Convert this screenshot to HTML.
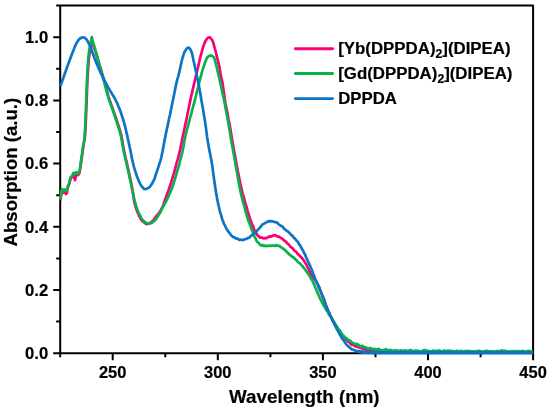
<!DOCTYPE html>
<html><head><meta charset="utf-8"><title>Absorption spectra</title>
<style>html,body{margin:0;padding:0;background:#fff;}body{width:550px;height:411px;overflow:hidden;position:relative;}</style>
</head><body>
<svg width="550" height="411" viewBox="0 0 550 411" style="display:block;position:absolute;left:0;top:0">
<rect width="550" height="411" fill="#fff"/>
<g stroke="#000" stroke-width="2" fill="none">
<path stroke-linejoin="round" d="M56.2,5.6 H533.1 V360.2 M59.2,353.2 H534.1 M60.2,4.6 V357.2"/>
<path d="M112.7,353.2 v7 M217.8,353.2 v7 M322.9,353.2 v7 M428.0,353.2 v7 M165.3,353.2 v4 M270.4,353.2 v4 M375.5,353.2 v4 M480.6,353.2 v4 M60.2,353.2 h-7 M60.2,290.0 h-7 M60.2,226.8 h-7 M60.2,163.6 h-7 M60.2,100.4 h-7 M60.2,37.2 h-7 M60.2,321.6 h-4 M60.2,258.4 h-4 M60.2,195.2 h-4 M60.2,132.0 h-4 M60.2,68.8 h-4"/>
</g>
<g fill="none" stroke-width="2.7" stroke-linejoin="round" stroke-linecap="butt">
<path d="M60.5,200.50 L61.0,195.86 L61.5,192.29 L62.0,190.25 L62.5,191.50 L63.0,192.92 L63.5,192.29 L64.0,191.43 L64.5,191.00 L65.0,192.12 L65.5,193.14 L66.0,194.00 L66.5,193.62 L67.0,192.44 L67.5,188.50 L68.0,185.62 L68.5,185.00 L69.0,184.38 L69.5,183.14 L70.0,181.00 L70.5,179.21 L71.0,178.20 L71.5,177.70 L72.0,177.11 L72.5,176.50 L73.0,175.29 L73.5,174.40 L74.0,175.40 L74.5,178.53 L75.0,180.17 L75.5,178.00 L76.0,175.50 L76.5,173.92 L77.0,173.33 L77.5,174.10 L78.0,175.08 L78.5,174.71 L79.0,173.50 L79.5,172.75 L80.0,170.07 L80.5,166.65 L81.0,163.07 L81.5,159.57 L82.0,155.99 L82.5,152.45 L83.0,148.83 L83.5,145.39 L84.0,142.62 L84.5,139.98 L85.0,136.42 L85.5,128.57 L86.0,116.68 L86.3,109.40 L86.5,104.42 L87.0,90.45 L87.4,81.00 L87.5,79.13 L88.0,70.66 L88.5,63.45 L89.0,57.69 L89.3,55.07 L89.5,53.52 L90.0,50.00 L90.5,47.15 L90.6,46.53 L91.0,44.21 L91.5,41.86 L91.8,41.43 L92.0,41.89 L92.5,43.65 L92.8,44.54 L93.0,45.06 L93.5,46.39 L94.0,47.67 L94.5,48.89 L94.9,49.92 L95.0,50.19 L95.5,51.53 L96.0,53.02 L96.5,54.66 L97.0,56.25 L97.5,57.95 L98.0,59.68 L98.5,61.29 L99.0,63.03 L99.5,64.79 L100.0,66.38 L100.5,67.86 L101.0,69.43 L101.5,71.25 L102.0,73.07 L102.5,74.73 L103.0,76.39 L103.5,78.09 L104.0,79.77 L104.5,81.55 L105.0,83.41 L105.5,85.21 L106.0,87.24 L106.5,89.37 L107.0,91.19 L107.5,92.86 L108.0,94.73 L108.5,96.62 L109.0,98.29 L109.5,99.74 L110.0,101.10 L110.5,102.56 L111.0,104.07 L111.5,105.44 L112.0,106.73 L112.5,108.08 L113.0,109.52 L113.5,110.96 L114.0,112.38 L114.5,113.91 L115.0,115.44 L115.5,116.82 L116.0,118.25 L116.5,119.79 L117.0,121.26 L117.5,122.74 L118.0,124.21 L118.5,125.75 L119.0,127.47 L119.5,129.13 L120.0,130.75 L120.5,132.45 L121.0,134.27 L121.5,136.33 L122.0,139.01 L122.5,142.08 L123.0,145.05 L123.5,147.87 L124.0,150.51 L124.5,152.89 L125.0,155.22 L125.5,157.52 L126.0,159.58 L126.5,161.61 L127.0,163.84 L127.5,166.17 L128.0,168.53 L128.5,170.78 L129.0,172.92 L129.5,175.14 L130.0,177.38 L130.5,179.64 L131.0,182.05 L131.5,184.49 L132.0,187.10 L132.5,190.22 L133.0,193.54 L133.5,196.93 L134.0,200.12 L134.5,202.68 L135.0,204.62 L135.5,206.43 L136.0,208.15 L136.5,209.66 L137.0,210.95 L137.5,212.19 L138.0,213.32 L138.5,214.52 L139.0,215.81 L139.5,216.72 L140.0,217.58 L140.5,218.59 L141.0,219.38 L141.5,220.14 L142.0,220.77 L142.5,221.14 L143.0,221.54 L143.5,222.01 L144.0,222.39 L144.5,222.67 L145.0,223.02 L145.5,223.48 L146.0,223.84 L146.5,224.05 L147.0,224.13 L147.5,223.99 L148.0,223.75 L148.5,223.49 L149.0,223.19 L149.5,222.98 L150.0,222.83 L150.5,222.70 L151.0,222.46 L151.5,222.06 L152.0,221.56 L152.5,221.06 L153.0,220.62 L153.5,220.12 L154.0,219.45 L154.5,218.80 L155.0,218.27 L155.5,217.58 L156.0,216.72 L156.5,215.97 L157.0,215.36 L157.5,214.78 L158.0,214.17 L158.5,213.59 L159.0,213.00 L159.5,212.37 L160.0,211.60 L160.5,210.72 L161.0,209.85 L161.5,208.91 L162.0,208.02 L162.5,207.02 L163.0,205.77 L163.5,204.41 L164.0,202.90 L164.5,201.42 L165.0,200.01 L165.5,198.55 L166.0,197.14 L166.5,195.73 L167.0,194.34 L167.5,192.97 L168.0,191.67 L168.5,190.39 L169.0,189.00 L169.5,187.42 L170.0,185.72 L170.5,184.26 L171.0,182.82 L171.5,181.22 L172.0,179.65 L172.5,177.96 L173.0,176.19 L173.5,174.62 L174.0,173.02 L174.5,171.11 L175.0,169.15 L175.5,167.28 L176.0,165.38 L176.5,163.45 L177.0,161.74 L177.5,160.10 L178.0,158.21 L178.5,156.23 L179.0,154.35 L179.5,152.37 L180.0,150.25 L180.5,148.01 L181.0,145.53 L181.5,142.98 L182.0,140.40 L182.5,137.75 L183.0,135.42 L183.5,133.20 L184.0,130.84 L184.5,128.50 L185.0,126.12 L185.5,123.85 L186.0,121.64 L186.5,119.11 L187.0,116.54 L187.5,114.09 L188.0,111.59 L188.5,109.15 L189.0,106.79 L189.5,104.35 L190.0,101.88 L190.5,99.61 L191.0,97.31 L191.5,95.00 L192.0,92.83 L192.5,90.65 L193.0,88.55 L193.5,86.40 L194.0,84.17 L194.5,82.01 L195.0,79.81 L195.5,77.61 L196.0,75.58 L196.5,73.60 L197.0,71.56 L197.5,69.47 L198.0,67.22 L198.5,64.95 L199.0,62.86 L199.5,60.69 L200.0,58.37 L200.5,56.34 L201.0,54.56 L201.5,52.89 L202.0,51.11 L202.5,49.21 L203.0,47.52 L203.5,46.04 L204.0,44.62 L204.5,43.30 L205.0,42.08 L205.5,40.96 L206.0,40.13 L206.5,39.41 L207.0,38.68 L207.5,38.14 L208.0,37.87 L208.5,37.67 L209.0,37.34 L209.5,37.23 L210.0,37.55 L210.5,37.99 L211.0,38.54 L211.5,39.28 L212.0,39.97 L212.5,40.67 L213.0,41.84 L213.5,43.52 L214.0,45.36 L214.5,47.28 L215.0,49.27 L215.5,50.95 L216.0,52.76 L216.5,54.81 L217.0,57.03 L217.5,59.05 L218.0,61.07 L218.5,63.12 L219.0,65.10 L219.5,67.60 L220.0,70.74 L220.5,73.73 L221.0,76.17 L221.5,78.42 L222.0,80.57 L222.5,82.98 L223.0,86.44 L223.5,90.23 L224.0,93.54 L224.5,96.88 L225.0,100.42 L225.5,103.57 L226.0,106.30 L226.5,108.79 L227.0,111.11 L227.5,113.49 L228.0,116.34 L228.5,119.23 L229.0,121.68 L229.5,124.13 L230.0,126.81 L230.5,129.62 L231.0,132.81 L231.5,135.85 L232.0,138.65 L232.5,141.67 L233.0,144.72 L233.5,147.66 L234.0,150.48 L234.5,153.10 L235.0,155.63 L235.5,158.41 L236.0,161.39 L236.5,164.21 L237.0,166.97 L237.5,169.60 L238.0,171.96 L238.5,174.47 L239.0,177.08 L239.5,179.57 L240.0,181.97 L240.5,184.36 L241.0,186.73 L241.5,188.90 L242.0,190.98 L242.5,193.02 L243.0,194.83 L243.5,196.46 L244.0,198.24 L244.5,200.05 L245.0,201.90 L245.5,203.67 L246.0,205.10 L246.5,206.70 L247.0,208.66 L247.5,210.52 L248.0,212.20 L248.5,213.95 L249.0,215.54 L249.5,217.06 L250.0,218.73 L250.5,220.23 L251.0,221.48 L251.5,222.75 L252.0,224.07 L252.5,225.06 L253.0,225.99 L253.5,227.36 L254.0,228.90 L254.5,230.38 L255.0,231.66 L255.5,232.53 L256.0,233.18 L256.5,233.84 L257.0,234.61 L257.5,235.39 L258.0,235.85 L258.5,236.08 L259.0,236.57 L259.5,237.23 L260.0,237.63 L260.5,237.62 L261.0,237.50 L261.5,237.54 L262.0,237.63 L262.5,237.80 L263.0,238.12 L263.5,238.31 L264.0,238.35 L264.5,238.29 L265.0,238.15 L265.5,238.09 L266.0,238.06 L266.5,238.08 L267.0,238.07 L267.5,237.61 L268.0,237.10 L268.5,236.96 L269.0,236.73 L269.5,236.41 L270.0,236.45 L270.5,236.70 L271.0,236.60 L271.5,236.22 L272.0,236.12 L272.5,235.90 L273.0,235.45 L273.5,235.31 L274.0,235.34 L274.5,235.19 L275.0,235.03 L275.5,235.27 L276.0,235.75 L276.5,236.11 L277.0,236.21 L277.5,236.29 L278.0,236.61 L278.5,236.66 L279.0,236.65 L279.5,237.01 L280.0,237.34 L280.5,237.60 L281.0,237.97 L281.5,238.39 L282.0,238.65 L282.5,238.96 L283.0,239.48 L283.5,239.84 L284.0,240.25 L284.5,240.79 L285.0,241.09 L285.5,241.38 L286.0,241.75 L286.5,242.13 L287.0,242.89 L287.5,243.63 L288.0,243.94 L288.5,244.28 L289.0,244.73 L289.5,245.43 L290.0,246.31 L290.5,246.78 L291.0,247.05 L291.5,247.47 L292.0,247.89 L292.5,248.31 L293.0,248.79 L293.5,249.37 L294.0,250.09 L294.5,250.72 L295.0,251.15 L295.5,251.41 L296.0,251.74 L296.5,252.28 L297.0,252.89 L297.5,253.61 L298.0,254.24 L298.5,254.66 L299.0,254.86 L299.5,255.25 L300.0,256.13 L300.5,256.68 L301.0,256.90 L301.5,257.57 L302.0,258.26 L302.5,258.79 L303.0,259.52 L303.5,260.00 L304.0,260.62 L304.5,261.67 L305.0,262.46 L305.5,263.22 L306.0,264.08 L306.5,265.00 L307.0,266.15 L307.5,267.10 L308.0,267.98 L308.5,268.99 L309.0,270.11 L309.5,271.17 L310.0,272.14 L310.5,273.26 L311.0,274.22 L311.5,275.08 L312.0,275.95 L312.5,276.65 L313.0,277.46 L313.5,278.32 L314.0,278.98 L314.5,279.63 L315.0,280.09 L315.5,280.33 L316.0,280.85 L316.5,281.84 L317.0,282.96 L317.5,283.87 L318.0,284.89 L318.5,285.98 L319.0,286.84 L319.5,287.99 L320.0,289.66 L320.5,291.22 L321.0,292.22 L321.5,293.22 L322.0,294.63 L322.5,296.05 L323.0,297.28 L323.5,298.38 L324.0,299.65 L324.5,301.20 L325.0,302.84 L325.5,304.51 L326.0,305.83 L326.5,306.74 L327.0,307.86 L327.5,309.16 L328.0,310.41 L328.5,311.68 L329.0,312.85 L329.5,314.02 L330.0,315.14 L330.5,315.96 L331.0,316.67 L331.5,317.58 L332.0,318.62 L332.5,319.57 L333.0,320.61 L333.5,321.89 L334.0,322.92 L334.5,323.67 L335.0,324.39 L335.5,325.18 L336.0,326.35 L336.5,327.39 L337.0,327.96 L337.5,328.88 L338.0,329.91 L338.5,330.56 L339.0,331.25 L339.5,331.94 L340.0,332.55 L340.5,333.42 L341.0,334.16 L341.5,334.47 L342.0,335.01 L342.5,335.88 L343.0,336.73 L343.5,337.38 L344.0,337.73 L344.5,337.93 L345.0,338.37 L345.5,339.08 L346.0,339.58 L346.5,339.91 L347.0,340.48 L347.5,341.14 L348.0,341.55 L348.5,341.81 L349.0,342.16 L349.5,342.44 L350.0,342.82 L350.5,343.42 L351.0,344.20 L351.5,344.69 L352.0,344.63 L352.5,344.73 L353.0,344.91 L353.5,344.98 L354.0,345.22 L354.5,345.54 L355.0,346.08 L355.5,346.30 L356.0,346.31 L356.5,346.45 L357.0,346.79 L357.5,346.95 L358.0,347.07 L358.5,347.17 L359.0,347.23 L359.5,347.56 L360.0,347.88 L360.5,347.99 L361.0,348.02 L361.5,348.12 L362.0,348.37 L362.5,348.54 L363.0,348.59 L363.5,348.72 L364.0,349.01 L364.5,349.22 L365.0,349.29 L365.5,349.44 L366.0,349.65 L366.5,349.73 L367.0,349.66 L367.5,349.61 L368.0,349.67 L368.5,349.83 L369.0,350.02 L369.5,350.10 L370.0,350.07 L370.5,350.06 L371.0,350.17 L371.5,350.35 L372.0,350.41 L372.5,350.40 L373.0,350.41 L373.5,350.44 L374.0,350.63 L374.5,350.88 L375.0,350.89 L375.5,350.75 L376.0,350.70 L376.5,350.82 L377.0,351.10 L377.5,351.16 L378.0,350.93 L378.5,350.89 L379.0,351.02 L379.5,350.98 L380.0,350.96 L380.5,351.18 L381.0,351.25 L381.5,351.15 L382.0,351.30 L382.5,351.53 L383.0,351.52 L383.5,351.54 L384.0,351.70 L384.5,351.60 L385.0,351.46 L385.5,351.49 L386.0,351.49 L386.5,351.50 L387.0,351.51 L387.5,351.57 L388.0,351.65 L388.5,351.77 L389.0,351.83 L389.5,351.77 L390.0,351.79 L390.5,351.73 L391.0,351.60 L391.5,351.71 L392.0,351.87 L392.5,351.91 L393.0,352.14 L393.5,352.30 L394.0,352.10 L394.5,351.94 L395.0,352.00 L395.5,351.93 L396.0,351.81 L396.5,351.91 L397.0,351.76 L397.5,351.50 L398.0,351.61 L398.5,351.82 L399.0,351.91 L399.5,351.95 L400.0,351.99 L400.5,351.94 L401.0,351.76 L401.5,351.67 L402.0,351.89 L402.5,352.03 L403.0,351.80 L403.5,351.58 L404.0,351.73 L404.5,351.99 L405.0,351.90 L405.5,351.74 L406.0,351.81 L406.5,351.91 L407.0,351.83 L407.5,351.68 L408.0,351.68 L408.5,351.87 L409.0,352.02 L409.5,352.01 L410.0,352.03 L410.5,352.00 L411.0,351.96 L411.5,351.95 L412.0,352.00 L412.5,352.08 L413.0,352.01 L413.5,351.89 L414.0,351.90 L414.5,351.95 L415.0,351.99 L415.5,352.00 L416.0,351.90 L416.5,351.80 L417.0,351.97 L417.5,352.03 L418.0,351.94 L418.5,352.06 L419.0,352.05 L419.5,351.82 L420.0,351.77 L420.5,351.90 L421.0,351.85 L421.5,351.85 L422.0,351.91 L422.5,351.79 L423.0,351.69 L423.5,351.73 L424.0,351.89 L424.5,352.03 L425.0,352.05 L425.5,351.99 L426.0,351.93 L426.5,351.90 L427.0,351.99 L427.5,352.15 L428.0,351.97 L428.5,351.66 L429.0,351.80 L429.5,351.99 L430.0,351.85 L430.5,351.84 L431.0,351.91 L431.5,351.91 L432.0,352.11 L432.5,352.17 L433.0,352.02 L433.5,351.98 L434.0,351.85 L434.5,351.79 L435.0,351.94 L435.5,351.96 L436.0,351.95 L436.5,351.93 L437.0,351.78 L437.5,351.70 L438.0,351.82 L438.5,352.03 L439.0,352.14 L439.5,352.01 L440.0,351.85 L440.5,351.93 L441.0,351.93 L441.5,351.75 L442.0,351.80 L442.5,352.03 L443.0,352.10 L443.5,352.07 L444.0,352.06 L444.5,352.04 L445.0,352.00 L445.5,351.91 L446.0,351.84 L446.5,351.86 L447.0,352.04 L447.5,352.24 L448.0,352.14 L448.5,351.97 L449.0,351.93 L449.5,351.92 L450.0,351.96 L450.5,352.02 L451.0,352.05 L451.5,352.02 L452.0,351.96 L452.5,352.02 L453.0,352.03 L453.5,351.90 L454.0,351.94 L454.5,351.99 L455.0,351.92 L455.5,351.78 L456.0,351.79 L456.5,351.95 L457.0,351.86 L457.5,351.81 L458.0,351.87 L458.5,351.85 L459.0,352.01 L459.5,352.12 L460.0,352.07 L460.5,351.92 L461.0,351.71 L461.5,351.77 L462.0,352.01 L462.5,351.98 L463.0,351.98 L463.5,352.10 L464.0,351.99 L464.5,351.90 L465.0,351.93 L465.5,351.89 L466.0,351.82 L466.5,351.93 L467.0,352.15 L467.5,351.97 L468.0,351.55 L468.5,351.59 L469.0,351.90 L469.5,351.97 L470.0,352.00 L470.5,351.98 L471.0,351.91 L471.5,352.03 L472.0,352.11 L472.5,352.07 L473.0,352.10 L473.5,352.09 L474.0,351.97 L474.5,351.95 L475.0,352.06 L475.5,351.98 L476.0,351.93 L476.5,352.15 L477.0,352.30 L477.5,352.24 L478.0,352.11 L478.5,352.01 L479.0,351.91 L479.5,351.85 L480.0,351.95 L480.5,351.98 L481.0,352.03 L481.5,352.07 L482.0,351.86 L482.5,351.76 L483.0,351.94 L483.5,352.09 L484.0,352.02 L484.5,351.88 L485.0,351.82 L485.5,351.77 L486.0,351.85 L486.5,352.07 L487.0,352.19 L487.5,352.11 L488.0,352.12 L488.5,352.20 L489.0,351.90 L489.5,351.67 L490.0,351.84 L490.5,352.04 L491.0,352.03 L491.5,351.95 L492.0,352.11 L492.5,352.18 L493.0,351.95 L493.5,351.75 L494.0,351.76 L494.5,351.97 L495.0,352.16 L495.5,352.19 L496.0,352.23 L496.5,352.22 L497.0,352.15 L497.5,352.06 L498.0,351.89 L498.5,351.86 L499.0,351.93 L499.5,351.95 L500.0,352.10 L500.5,352.22 L501.0,352.08 L501.5,351.89 L502.0,351.94 L502.5,352.07 L503.0,351.99 L503.5,351.94 L504.0,351.97 L504.5,352.05 L505.0,352.10 L505.5,351.91 L506.0,351.88 L506.5,352.10 L507.0,352.16 L507.5,352.10 L508.0,352.09 L508.5,352.17 L509.0,352.28 L509.5,352.22 L510.0,352.03 L510.5,351.96 L511.0,352.04 L511.5,352.08 L512.0,352.04 L512.5,351.81 L513.0,351.70 L513.5,351.96 L514.0,352.16 L514.5,352.22 L515.0,352.29 L515.5,352.18 L516.0,352.06 L516.5,352.09 L517.0,352.12 L517.5,352.16 L518.0,352.13 L518.5,352.08 L519.0,352.06 L519.5,351.93 L520.0,351.83 L520.5,351.78 L521.0,351.76 L521.5,351.98 L522.0,352.27 L522.5,352.33 L523.0,352.12 L523.5,351.84 L524.0,351.88 L524.5,352.05 L525.0,352.00 L525.5,351.88 L526.0,351.77 L526.5,351.90 L527.0,352.10 L527.5,352.08 L528.0,351.96 L528.5,351.84 L529.0,351.90 L529.5,352.09 L530.0,352.10 L530.5,352.02 L531.0,351.96 L531.5,351.96 L532.0,352.14 L532.5,352.17 L533.0,351.98" stroke="#fa0078"/>
<path d="M60.5,199.50 L61.0,194.08 L61.5,190.20 L62.0,189.14 L62.5,189.92 L63.0,191.50 L63.5,190.43 L64.0,189.70 L64.5,189.43 L65.0,190.08 L65.5,190.64 L66.0,190.84 L66.5,190.71 L67.0,189.29 L67.5,188.33 L68.0,187.36 L68.5,186.07 L69.0,183.93 L69.5,181.50 L70.0,179.13 L70.5,177.34 L71.0,177.04 L71.5,176.66 L72.0,175.96 L72.5,175.10 L73.0,173.60 L73.5,172.89 L74.0,173.20 L74.5,174.04 L75.0,174.26 L75.5,173.33 L76.0,172.37 L76.5,172.09 L77.0,173.03 L77.5,173.59 L78.0,173.90 L78.5,172.83 L79.0,172.14 L79.5,171.25 L80.0,168.50 L80.5,164.00 L81.0,160.40 L81.5,157.41 L82.0,154.24 L82.5,150.55 L83.0,146.83 L83.5,143.77 L84.0,141.21 L84.5,137.58 L85.0,130.58 L85.5,119.21 L85.9,109.13 L86.0,106.49 L86.5,91.39 L86.9,80.99 L87.0,79.10 L87.5,69.98 L88.0,62.22 L88.5,56.17 L88.7,54.26 L89.0,51.95 L89.5,49.04 L90.0,46.41 L90.2,45.22 L90.5,43.50 L91.0,40.73 L91.2,39.78 L91.5,38.05 L91.8,37.12 L92.0,37.59 L92.3,39.07 L92.5,39.99 L93.0,42.01 L93.4,43.51 L93.5,43.72 L94.0,45.21 L94.5,46.91 L95.0,48.69 L95.3,49.90 L95.5,50.40 L96.0,52.17 L96.5,54.06 L97.0,56.07 L97.5,58.07 L98.0,60.02 L98.5,61.87 L98.8,62.96 L99.0,63.74 L99.5,65.61 L100.0,67.46 L100.5,69.21 L101.0,70.82 L101.5,72.44 L102.0,74.18 L102.5,75.98 L103.0,77.70 L103.5,79.40 L104.0,81.19 L104.5,83.08 L105.0,85.06 L105.5,87.06 L106.0,89.11 L106.5,91.08 L107.0,92.90 L107.5,94.67 L108.0,96.50 L108.5,98.18 L109.0,99.64 L109.5,101.13 L110.0,102.57 L110.5,103.93 L111.0,105.43 L111.5,106.84 L112.0,108.13 L112.5,109.46 L113.0,110.83 L113.5,112.25 L114.0,113.75 L114.5,115.36 L115.0,116.86 L115.5,118.22 L116.0,119.72 L116.5,121.42 L117.0,122.93 L117.5,124.32 L118.0,126.05 L118.5,127.75 L119.0,129.15 L119.5,130.67 L120.0,132.48 L120.5,134.34 L121.0,136.32 L121.5,138.87 L122.0,141.93 L122.5,145.02 L123.0,147.89 L123.5,150.45 L124.0,152.79 L124.5,155.08 L125.0,157.21 L125.5,159.22 L126.0,161.29 L126.5,163.43 L127.0,165.54 L127.5,167.65 L128.0,169.84 L128.5,172.14 L129.0,174.50 L129.5,176.86 L130.0,179.20 L130.5,181.39 L131.0,183.65 L131.5,186.26 L132.0,188.74 L132.5,190.94 L133.0,193.18 L133.5,195.53 L134.0,197.84 L134.5,199.97 L135.0,201.89 L135.5,203.63 L136.0,205.31 L136.5,206.94 L137.0,208.45 L137.5,209.85 L138.0,211.17 L138.5,212.40 L139.0,213.57 L139.5,214.57 L140.0,215.35 L140.5,216.33 L141.0,217.55 L141.5,218.52 L142.0,219.13 L142.5,219.71 L143.0,220.36 L143.5,220.89 L144.0,221.28 L144.5,221.66 L145.0,221.96 L145.5,222.27 L146.0,222.72 L146.5,223.15 L147.0,223.40 L147.5,223.47 L148.0,223.52 L148.5,223.64 L149.0,223.63 L149.5,223.52 L150.0,223.42 L150.5,223.31 L151.0,223.17 L151.5,223.01 L152.0,222.74 L152.5,222.30 L153.0,221.89 L153.5,221.65 L154.0,221.35 L154.5,220.92 L155.0,220.36 L155.5,219.71 L156.0,219.07 L156.5,218.46 L157.0,217.79 L157.5,216.88 L158.0,215.99 L158.5,215.26 L159.0,214.50 L159.5,213.76 L160.0,212.97 L160.5,211.86 L161.0,210.74 L161.5,209.82 L162.0,208.71 L162.5,207.66 L163.0,206.84 L163.5,205.93 L164.0,204.99 L164.5,204.15 L165.0,203.29 L165.5,202.41 L166.0,201.51 L166.5,200.55 L167.0,199.44 L167.5,198.42 L168.0,197.53 L168.5,196.38 L169.0,195.17 L169.5,194.06 L170.0,192.97 L170.5,191.87 L171.0,190.71 L171.5,189.56 L172.0,188.31 L172.5,186.79 L173.0,185.18 L173.5,183.65 L174.0,182.06 L174.5,180.45 L175.0,178.88 L175.5,177.17 L176.0,175.43 L176.5,173.70 L177.0,171.90 L177.5,170.23 L178.0,168.66 L178.5,166.91 L179.0,165.11 L179.5,163.29 L180.0,161.27 L180.5,159.33 L181.0,157.37 L181.5,155.40 L182.0,153.62 L182.5,151.46 L183.0,149.03 L183.5,146.44 L184.0,143.49 L184.5,140.49 L185.0,137.90 L185.5,135.58 L186.0,133.44 L186.5,131.50 L187.0,129.57 L187.5,127.71 L188.0,125.92 L188.5,124.02 L189.0,122.10 L189.5,120.14 L190.0,118.22 L190.5,116.49 L191.0,114.75 L191.5,112.88 L192.0,110.93 L192.5,108.94 L193.0,106.98 L193.5,105.20 L194.0,103.47 L194.5,101.62 L195.0,99.64 L195.5,97.54 L196.0,95.49 L196.5,93.57 L197.0,91.60 L197.5,89.53 L198.0,87.47 L198.5,85.46 L199.0,83.42 L199.5,81.41 L200.0,79.50 L200.5,77.60 L201.0,75.73 L201.5,73.91 L202.0,72.12 L202.5,70.38 L203.0,68.72 L203.5,67.14 L204.0,65.55 L204.5,64.01 L205.0,62.80 L205.5,61.62 L206.0,60.15 L206.5,58.85 L207.0,57.85 L207.5,57.14 L208.0,56.71 L208.5,56.30 L209.0,55.94 L209.5,55.74 L210.0,55.58 L210.5,55.54 L211.0,55.55 L211.5,55.58 L212.0,55.80 L212.5,56.24 L213.0,56.58 L213.5,56.89 L214.0,57.39 L214.5,58.66 L215.0,60.54 L215.5,62.47 L216.0,64.35 L216.5,66.32 L217.0,68.35 L217.5,70.59 L218.0,72.68 L218.5,74.66 L219.0,76.82 L219.5,79.00 L220.0,81.27 L220.5,83.60 L221.0,85.80 L221.5,87.96 L222.0,90.49 L222.5,93.11 L223.0,95.25 L223.5,97.33 L224.0,99.67 L224.5,102.11 L225.0,104.77 L225.5,107.73 L226.0,110.53 L226.5,112.98 L227.0,115.52 L227.5,118.18 L228.0,120.88 L228.5,123.73 L229.0,126.77 L229.5,129.80 L230.0,132.83 L230.5,136.07 L231.0,139.06 L231.5,141.83 L232.0,144.64 L232.5,147.32 L233.0,150.10 L233.5,153.02 L234.0,155.79 L234.5,158.49 L235.0,161.22 L235.5,164.13 L236.0,166.96 L236.5,169.64 L237.0,172.62 L237.5,175.68 L238.0,178.63 L238.5,181.19 L239.0,183.62 L239.5,186.53 L240.0,189.25 L240.5,191.49 L241.0,193.70 L241.5,195.86 L242.0,197.94 L242.5,200.03 L243.0,202.03 L243.5,203.82 L244.0,205.26 L244.5,206.96 L245.0,209.23 L245.5,211.28 L246.0,212.86 L246.5,214.39 L247.0,216.25 L247.5,218.07 L248.0,219.55 L248.5,220.96 L249.0,222.30 L249.5,223.57 L250.0,224.83 L250.5,226.30 L251.0,227.88 L251.5,229.15 L252.0,230.27 L252.5,231.52 L253.0,232.71 L253.5,233.85 L254.0,235.18 L254.5,236.53 L255.0,237.58 L255.5,238.34 L256.0,239.34 L256.5,240.55 L257.0,241.44 L257.5,242.00 L258.0,242.33 L258.5,242.63 L259.0,243.26 L259.5,244.09 L260.0,244.58 L260.5,244.93 L261.0,245.45 L261.5,245.65 L262.0,245.30 L262.5,244.96 L263.0,245.11 L263.5,245.62 L264.0,246.03 L264.5,245.87 L265.0,245.54 L265.5,245.80 L266.0,246.10 L266.5,245.86 L267.0,245.84 L267.5,246.10 L268.0,245.92 L268.5,245.70 L269.0,245.75 L269.5,245.70 L270.0,245.70 L270.5,245.91 L271.0,245.97 L271.5,245.80 L272.0,245.68 L272.5,245.67 L273.0,245.58 L273.5,245.59 L274.0,245.70 L274.5,245.78 L275.0,245.82 L275.5,245.51 L276.0,245.11 L276.5,245.28 L277.0,245.67 L277.5,245.73 L278.0,245.68 L278.5,245.78 L279.0,245.97 L279.5,246.19 L280.0,246.45 L280.5,246.71 L281.0,247.14 L281.5,247.48 L282.0,247.77 L282.5,248.22 L283.0,248.45 L283.5,248.82 L284.0,249.37 L284.5,249.69 L285.0,250.02 L285.5,250.45 L286.0,250.98 L286.5,251.69 L287.0,252.20 L287.5,252.50 L288.0,252.94 L288.5,253.60 L289.0,254.24 L289.5,254.52 L290.0,254.76 L290.5,255.23 L291.0,255.62 L291.5,256.16 L292.0,256.75 L292.5,256.97 L293.0,257.08 L293.5,257.31 L294.0,257.87 L294.5,258.57 L295.0,259.06 L295.5,259.45 L296.0,259.70 L296.5,260.13 L297.0,260.87 L297.5,261.45 L298.0,261.83 L298.5,262.34 L299.0,262.89 L299.5,263.15 L300.0,263.36 L300.5,263.95 L301.0,264.64 L301.5,265.20 L302.0,265.71 L302.5,266.14 L303.0,266.86 L303.5,267.57 L304.0,267.97 L304.5,268.69 L305.0,269.49 L305.5,270.11 L306.0,270.85 L306.5,271.55 L307.0,272.21 L307.5,272.96 L308.0,273.64 L308.5,274.29 L309.0,274.99 L309.5,275.76 L310.0,276.76 L310.5,277.73 L311.0,278.41 L311.5,279.07 L312.0,279.97 L312.5,281.06 L313.0,282.02 L313.5,283.07 L314.0,284.36 L314.5,285.59 L315.0,286.83 L315.5,287.90 L316.0,288.78 L316.5,290.02 L317.0,291.47 L317.5,292.64 L318.0,293.76 L318.5,294.85 L319.0,295.84 L319.5,297.08 L320.0,298.43 L320.5,299.38 L321.0,300.07 L321.5,301.04 L322.0,302.16 L322.5,303.10 L323.0,304.10 L323.5,305.15 L324.0,305.89 L324.5,306.66 L325.0,307.74 L325.5,308.64 L326.0,309.30 L326.5,310.17 L327.0,311.07 L327.5,311.57 L328.0,312.28 L328.5,313.46 L329.0,314.60 L329.5,315.28 L330.0,315.69 L330.5,316.27 L331.0,317.09 L331.5,317.94 L332.0,318.60 L332.5,319.48 L333.0,320.47 L333.5,321.29 L334.0,322.06 L334.5,322.71 L335.0,323.56 L335.5,324.47 L336.0,325.26 L336.5,326.15 L337.0,326.73 L337.5,327.53 L338.0,328.77 L338.5,329.37 L339.0,329.57 L339.5,330.09 L340.0,330.87 L340.5,331.69 L341.0,332.50 L341.5,333.36 L342.0,334.11 L342.5,334.62 L343.0,335.15 L343.5,335.71 L344.0,336.17 L344.5,336.76 L345.0,337.44 L345.5,337.83 L346.0,337.96 L346.5,338.27 L347.0,338.92 L347.5,339.51 L348.0,339.93 L348.5,340.28 L349.0,340.42 L349.5,340.46 L350.0,340.57 L350.5,341.01 L351.0,341.60 L351.5,342.16 L352.0,342.58 L352.5,342.79 L353.0,343.08 L353.5,343.35 L354.0,343.46 L354.5,343.64 L355.0,343.85 L355.5,343.93 L356.0,344.02 L356.5,344.09 L357.0,344.05 L357.5,344.17 L358.0,344.68 L358.5,345.26 L359.0,345.25 L359.5,345.42 L360.0,346.14 L360.5,346.53 L361.0,346.71 L361.5,346.67 L362.0,346.09 L362.5,345.75 L363.0,346.39 L363.5,347.05 L364.0,347.10 L364.5,347.25 L365.0,347.39 L365.5,347.25 L366.0,347.30 L366.5,347.86 L367.0,348.23 L367.5,348.33 L368.0,348.46 L368.5,348.50 L369.0,348.55 L369.5,348.40 L370.0,347.95 L370.5,348.11 L371.0,348.76 L371.5,348.86 L372.0,348.76 L372.5,348.95 L373.0,349.08 L373.5,349.09 L374.0,349.10 L374.5,348.96 L375.0,349.19 L375.5,349.82 L376.0,349.77 L376.5,349.44 L377.0,349.45 L377.5,349.49 L378.0,349.37 L378.5,348.96 L379.0,348.92 L379.5,349.35 L380.0,349.87 L380.5,350.42 L381.0,350.66 L381.5,350.77 L382.0,350.55 L382.5,350.02 L383.0,350.04 L383.5,350.36 L384.0,350.25 L384.5,349.86 L385.0,349.68 L385.5,349.49 L386.0,349.23 L386.5,349.52 L387.0,350.06 L387.5,350.37 L388.0,350.32 L388.5,350.49 L389.0,350.70 L389.5,350.42 L390.0,350.12 L390.5,349.96 L391.0,350.32 L391.5,350.85 L392.0,350.78 L392.5,350.48 L393.0,350.61 L393.5,350.77 L394.0,350.70 L394.5,350.76 L395.0,350.90 L395.5,350.71 L396.0,350.21 L396.5,350.54 L397.0,351.66 L397.5,351.54 L398.0,350.65 L398.5,350.76 L399.0,351.16 L399.5,351.14 L400.0,350.78 L400.5,350.46 L401.0,350.48 L401.5,350.62 L402.0,350.72 L402.5,350.72 L403.0,350.90 L403.5,351.35 L404.0,351.22 L404.5,350.58 L405.0,350.37 L405.5,350.72 L406.0,351.14 L406.5,351.30 L407.0,351.28 L407.5,350.98 L408.0,350.60 L408.5,350.67 L409.0,351.06 L409.5,350.76 L410.0,350.26 L410.5,350.09 L411.0,350.05 L411.5,350.56 L412.0,351.02 L412.5,351.31 L413.0,351.45 L413.5,351.24 L414.0,351.23 L414.5,351.17 L415.0,350.61 L415.5,350.40 L416.0,350.86 L416.5,350.97 L417.0,350.69 L417.5,350.61 L418.0,350.89 L418.5,351.08 L419.0,351.00 L419.5,351.13 L420.0,351.49 L420.5,351.63 L421.0,351.97 L421.5,352.14 L422.0,351.30 L422.5,350.61 L423.0,350.68 L423.5,350.88 L424.0,350.41 L424.5,349.80 L425.0,350.18 L425.5,351.02 L426.0,351.12 L426.5,350.58 L427.0,350.55 L427.5,350.77 L428.0,350.86 L428.5,351.10 L429.0,351.19 L429.5,351.04 L430.0,351.12 L430.5,351.45 L431.0,351.53 L431.5,351.42 L432.0,351.23 L432.5,351.07 L433.0,350.78 L433.5,350.52 L434.0,350.67 L434.5,350.90 L435.0,351.25 L435.5,351.36 L436.0,350.77 L436.5,350.81 L437.0,351.57 L437.5,351.26 L438.0,350.64 L438.5,350.98 L439.0,350.90 L439.5,350.35 L440.0,350.61 L440.5,351.15 L441.0,351.50 L441.5,351.56 L442.0,351.47 L442.5,351.45 L443.0,351.09 L443.5,350.64 L444.0,350.75 L444.5,350.81 L445.0,350.67 L445.5,350.83 L446.0,350.80 L446.5,350.90 L447.0,351.44 L447.5,351.30 L448.0,350.55 L448.5,350.54 L449.0,350.92 L449.5,351.09 L450.0,350.98 L450.5,350.64 L451.0,350.98 L451.5,351.36 L452.0,351.42 L452.5,351.32 L453.0,351.11 L453.5,351.20 L454.0,351.23 L454.5,351.23 L455.0,351.31 L455.5,351.51 L456.0,351.31 L456.5,350.78 L457.0,350.85 L457.5,351.07 L458.0,350.95 L458.5,351.19 L459.0,351.70 L459.5,351.82 L460.0,351.64 L460.5,351.07 L461.0,350.75 L461.5,350.95 L462.0,351.42 L462.5,351.93 L463.0,351.86 L463.5,351.58 L464.0,351.25 L464.5,351.04 L465.0,351.19 L465.5,351.45 L466.0,351.52 L466.5,351.18 L467.0,350.77 L467.5,350.71 L468.0,351.09 L468.5,351.46 L469.0,351.45 L469.5,351.18 L470.0,351.03 L470.5,351.25 L471.0,351.42 L471.5,351.31 L472.0,351.22 L472.5,351.34 L473.0,351.42 L473.5,351.25 L474.0,351.27 L474.5,351.51 L475.0,351.78 L475.5,351.96 L476.0,351.80 L476.5,351.29 L477.0,350.93 L477.5,351.57 L478.0,351.96 L478.5,351.17 L479.0,350.71 L479.5,351.16 L480.0,351.63 L480.5,351.50 L481.0,351.16 L481.5,351.32 L482.0,351.69 L482.5,352.05 L483.0,352.34 L483.5,352.05 L484.0,351.63 L484.5,351.45 L485.0,351.07 L485.5,350.89 L486.0,351.22 L486.5,351.21 L487.0,350.78 L487.5,350.78 L488.0,351.09 L488.5,351.24 L489.0,351.29 L489.5,351.38 L490.0,351.54 L490.5,351.34 L491.0,351.14 L491.5,351.77 L492.0,352.02 L492.5,351.63 L493.0,351.59 L493.5,351.45 L494.0,351.15 L494.5,351.33 L495.0,351.61 L495.5,351.68 L496.0,351.69 L496.5,351.49 L497.0,351.18 L497.5,350.96 L498.0,350.94 L498.5,351.34 L499.0,351.81 L499.5,351.47 L500.0,351.05 L500.5,351.21 L501.0,350.77 L501.5,350.30 L502.0,350.66 L502.5,350.93 L503.0,351.05 L503.5,350.81 L504.0,350.71 L504.5,350.95 L505.0,350.79 L505.5,350.92 L506.0,351.38 L506.5,351.65 L507.0,351.63 L507.5,351.26 L508.0,351.32 L508.5,351.69 L509.0,351.71 L509.5,351.72 L510.0,351.63 L510.5,351.78 L511.0,351.67 L511.5,351.18 L512.0,351.36 L512.5,351.72 L513.0,351.62 L513.5,351.39 L514.0,351.29 L514.5,351.01 L515.0,351.00 L515.5,351.33 L516.0,351.50 L516.5,351.76 L517.0,351.58 L517.5,351.07 L518.0,351.04 L518.5,351.03 L519.0,351.04 L519.5,351.24 L520.0,351.49 L520.5,351.91 L521.0,351.71 L521.5,351.14 L522.0,351.10 L522.5,350.96 L523.0,350.89 L523.5,351.51 L524.0,351.93 L524.5,351.69 L525.0,351.48 L525.5,351.55 L526.0,351.57 L526.5,351.88 L527.0,352.09 L527.5,351.41 L528.0,350.79 L528.5,351.06 L529.0,351.67 L529.5,351.63 L530.0,351.09 L530.5,351.08 L531.0,351.42 L531.5,351.64 L532.0,351.52 L532.5,351.06 L533.0,351.00" stroke="#08b24a"/>
<path d="M60.5,86.00 L61.0,84.55 L61.5,83.11 L62.0,81.67 L62.5,80.24 L63.0,78.80 L63.5,77.37 L64.0,75.94 L64.5,74.52 L65.0,73.11 L65.5,71.70 L66.0,70.30 L66.5,68.91 L67.0,67.52 L67.5,66.14 L68.0,64.76 L68.5,63.40 L69.0,62.04 L69.5,60.69 L70.0,59.34 L70.5,58.00 L71.0,56.66 L71.5,55.34 L72.0,54.04 L72.5,52.76 L73.0,51.49 L73.5,50.20 L74.0,48.89 L74.5,47.60 L75.0,46.35 L75.5,45.18 L76.0,44.12 L76.5,43.20 L77.0,42.37 L77.5,41.55 L78.0,40.79 L78.5,40.08 L79.0,39.45 L79.5,38.93 L80.0,38.52 L80.5,38.23 L81.0,37.94 L81.5,37.67 L82.0,37.67 L82.5,37.59 L83.0,37.37 L83.5,37.37 L84.0,37.47 L84.5,37.67 L85.0,38.10 L85.5,38.56 L86.0,38.89 L86.5,39.36 L87.0,40.10 L87.5,41.02 L88.0,41.96 L88.5,42.86 L89.0,43.90 L89.4,44.66 L89.5,44.72 L90.0,45.91 L90.5,47.27 L91.0,48.66 L91.5,49.98 L92.0,51.29 L92.5,52.73 L93.0,54.07 L93.5,55.36 L94.0,56.83 L94.5,58.19 L95.0,59.44 L95.5,60.74 L96.0,61.98 L96.5,63.15 L96.7,63.67 L97.0,64.40 L97.5,65.43 L98.0,66.69 L98.5,67.92 L99.0,68.93 L99.5,70.10 L100.0,71.34 L100.5,72.54 L101.0,73.59 L101.5,74.44 L102.0,75.41 L102.5,76.62 L103.0,77.64 L103.5,78.48 L104.0,79.45 L104.5,80.47 L105.0,81.44 L105.5,82.43 L106.0,83.34 L106.5,84.18 L107.0,85.21 L107.5,86.18 L108.0,87.07 L108.5,87.91 L109.0,88.69 L109.5,89.67 L110.0,90.51 L110.5,91.20 L111.0,92.03 L111.5,92.96 L112.0,93.96 L112.5,94.77 L113.0,95.39 L113.5,96.10 L114.0,96.98 L114.5,97.93 L115.0,98.85 L115.5,99.80 L116.0,100.82 L116.5,101.88 L117.0,102.93 L117.5,103.99 L118.0,105.26 L118.5,106.57 L119.0,107.59 L119.5,108.77 L120.0,110.20 L120.5,111.58 L121.0,113.03 L121.5,114.56 L122.0,116.09 L122.5,117.52 L123.0,119.06 L123.5,120.76 L124.0,122.45 L124.5,124.30 L125.0,126.21 L125.5,128.17 L126.0,130.32 L126.5,132.50 L127.0,134.64 L127.5,136.79 L128.0,139.17 L128.5,141.59 L129.0,143.85 L129.5,146.14 L130.0,148.49 L130.5,150.77 L131.0,153.35 L131.5,156.20 L132.0,158.73 L132.5,160.95 L133.0,163.06 L133.5,165.08 L134.0,167.00 L134.5,168.75 L135.0,170.40 L135.5,171.90 L136.0,173.39 L136.5,175.02 L137.0,176.54 L137.5,177.81 L138.0,179.04 L138.5,180.28 L139.0,181.30 L139.5,182.35 L140.0,183.51 L140.5,184.40 L141.0,185.17 L141.5,186.02 L142.0,186.69 L142.5,187.21 L143.0,187.89 L143.5,188.56 L144.0,188.85 L144.5,188.91 L145.0,188.93 L145.5,189.08 L146.0,189.12 L146.5,188.87 L147.0,188.61 L147.5,188.39 L148.0,188.04 L148.5,187.71 L149.0,187.50 L149.5,187.15 L150.0,186.54 L150.5,185.88 L151.0,185.28 L151.5,184.60 L152.0,183.68 L152.5,182.65 L153.0,181.77 L153.5,180.94 L154.0,179.97 L154.5,178.76 L155.0,177.27 L155.5,175.60 L156.0,173.96 L156.5,172.50 L157.0,171.13 L157.5,169.64 L158.0,168.17 L158.5,166.72 L159.0,165.09 L159.5,163.46 L160.0,161.89 L160.5,160.31 L161.0,158.59 L161.5,156.39 L162.0,153.91 L162.5,151.53 L163.0,149.05 L163.5,146.32 L164.0,143.54 L164.5,140.84 L165.0,138.33 L165.5,135.81 L166.0,133.25 L166.5,130.87 L167.0,128.55 L167.5,126.17 L168.0,123.86 L168.5,121.50 L169.0,119.06 L169.5,116.81 L170.0,114.62 L170.5,112.13 L171.0,109.61 L171.5,107.17 L172.0,104.73 L172.5,102.36 L173.0,99.92 L173.5,97.42 L174.0,94.90 L174.5,92.39 L175.0,89.94 L175.5,87.47 L176.0,85.03 L176.5,82.76 L177.0,80.60 L177.5,78.68 L178.0,77.08 L178.5,75.32 L179.0,73.44 L179.5,71.28 L180.0,68.91 L180.5,66.60 L181.0,64.24 L181.5,61.99 L182.0,60.02 L182.5,58.17 L183.0,56.43 L183.5,54.79 L184.0,53.23 L184.5,52.02 L185.0,51.19 L185.5,50.43 L186.0,49.59 L186.5,48.82 L187.0,48.39 L187.5,48.07 L188.0,47.76 L188.5,47.72 L189.0,47.92 L189.5,48.30 L190.0,48.91 L190.5,49.72 L191.0,50.72 L191.5,51.86 L192.0,53.42 L192.5,55.58 L193.0,58.02 L193.5,60.45 L194.0,62.63 L194.5,64.91 L195.0,67.33 L195.5,69.69 L196.0,72.01 L196.5,74.24 L197.0,76.48 L197.5,78.83 L198.0,81.23 L198.5,83.65 L199.0,86.28 L199.5,89.07 L200.0,91.73 L200.5,94.59 L201.0,97.73 L201.5,100.74 L202.0,103.61 L202.5,106.37 L203.0,109.06 L203.5,111.97 L204.0,115.12 L204.5,118.13 L205.0,121.23 L205.5,124.59 L206.0,128.27 L206.5,132.29 L207.0,136.24 L207.5,139.56 L208.0,142.60 L208.5,145.47 L209.0,148.17 L209.5,150.82 L210.0,153.29 L210.5,155.67 L211.0,158.31 L211.5,161.18 L212.0,164.16 L212.5,167.46 L213.0,171.17 L213.5,174.98 L214.0,178.77 L214.5,182.50 L215.0,185.92 L215.5,189.02 L216.0,192.24 L216.5,195.04 L217.0,197.71 L217.5,200.40 L218.0,202.95 L218.5,205.24 L219.0,207.24 L219.5,209.58 L220.0,211.95 L220.5,213.40 L221.0,214.76 L221.5,216.68 L222.0,218.54 L222.5,220.04 L223.0,221.18 L223.5,222.36 L224.0,223.76 L224.5,224.73 L225.0,225.52 L225.5,226.68 L226.0,227.81 L226.5,228.74 L227.0,229.56 L227.5,230.38 L228.0,231.16 L228.5,231.82 L229.0,232.36 L229.5,232.92 L230.0,233.63 L230.5,234.33 L231.0,234.99 L231.5,235.59 L232.0,235.98 L232.5,236.47 L233.0,236.94 L233.5,237.08 L234.0,237.17 L234.5,237.36 L235.0,237.79 L235.5,238.28 L236.0,238.55 L236.5,238.67 L237.0,238.54 L237.5,238.64 L238.0,238.96 L238.5,239.36 L239.0,239.95 L239.5,239.98 L240.0,239.63 L240.5,239.64 L241.0,239.80 L241.5,239.92 L242.0,239.99 L242.5,240.11 L243.0,240.06 L243.5,239.63 L244.0,239.34 L244.5,239.35 L245.0,239.32 L245.5,239.20 L246.0,239.00 L246.5,238.83 L247.0,238.60 L247.5,238.21 L248.0,237.96 L248.5,238.00 L249.0,237.94 L249.5,237.37 L250.0,236.76 L250.5,236.39 L251.0,235.85 L251.5,235.29 L252.0,235.15 L252.5,234.95 L253.0,234.26 L253.5,233.68 L254.0,233.57 L254.5,233.41 L255.0,232.91 L255.5,232.49 L256.0,232.17 L256.5,231.60 L257.0,230.81 L257.5,230.11 L258.0,229.58 L258.5,229.17 L259.0,228.65 L259.5,228.10 L260.0,227.69 L260.5,227.03 L261.0,226.35 L261.5,225.70 L262.0,224.87 L262.5,224.34 L263.0,224.15 L263.5,223.90 L264.0,223.62 L264.5,223.40 L265.0,223.05 L265.5,222.69 L266.0,222.46 L266.5,222.31 L267.0,222.07 L267.5,221.79 L268.0,221.46 L268.5,221.21 L269.0,221.32 L269.5,221.39 L270.0,221.09 L270.5,220.93 L271.0,221.22 L271.5,221.39 L272.0,221.26 L272.5,221.32 L273.0,221.51 L273.5,221.61 L274.0,221.84 L274.5,222.04 L275.0,222.00 L275.5,222.09 L276.0,222.36 L276.5,222.47 L277.0,222.54 L277.5,222.79 L278.0,223.40 L278.5,224.13 L279.0,224.51 L279.5,224.86 L280.0,225.19 L280.5,225.43 L281.0,225.83 L281.5,226.02 L282.0,226.22 L282.5,226.75 L283.0,227.26 L283.5,227.80 L284.0,228.59 L284.5,229.18 L285.0,229.34 L285.5,229.65 L286.0,230.20 L286.5,230.63 L287.0,230.91 L287.5,231.17 L288.0,231.61 L288.5,232.11 L289.0,232.50 L289.5,232.90 L290.0,233.50 L290.5,234.10 L291.0,234.62 L291.5,235.25 L292.0,235.57 L292.5,235.77 L293.0,236.40 L293.5,237.27 L294.0,237.85 L294.5,238.20 L295.0,238.76 L295.5,239.34 L296.0,239.90 L296.5,240.62 L297.0,241.16 L297.5,241.37 L298.0,241.97 L298.5,243.04 L299.0,244.02 L299.5,244.71 L300.0,245.24 L300.5,246.22 L301.0,247.35 L301.5,248.10 L302.0,248.94 L302.5,249.82 L303.0,250.64 L303.5,251.68 L304.0,252.75 L304.5,253.50 L305.0,254.40 L305.5,255.72 L306.0,257.07 L306.5,258.19 L307.0,259.18 L307.5,260.19 L308.0,261.28 L308.5,262.54 L309.0,263.75 L309.5,264.60 L310.0,265.57 L310.5,266.95 L311.0,268.07 L311.5,269.04 L312.0,270.26 L312.5,271.73 L313.0,273.28 L313.5,274.30 L314.0,275.32 L314.5,276.80 L315.0,278.30 L315.5,279.77 L316.0,280.85 L316.5,281.76 L317.0,282.95 L317.5,284.15 L318.0,285.29 L318.5,286.34 L319.0,287.40 L319.5,288.67 L320.0,289.77 L320.5,290.93 L321.0,292.44 L321.5,293.72 L322.0,294.78 L322.5,295.88 L323.0,296.94 L323.5,298.30 L324.0,299.75 L324.5,301.05 L325.0,302.38 L325.5,303.79 L326.0,305.24 L326.5,306.67 L327.0,308.25 L327.5,309.62 L328.0,310.50 L328.5,311.35 L329.0,312.18 L329.5,313.35 L330.0,314.81 L330.5,315.80 L331.0,316.80 L331.5,318.11 L332.0,319.33 L332.5,320.48 L333.0,321.57 L333.5,322.26 L334.0,323.02 L334.5,324.25 L335.0,325.37 L335.5,326.26 L336.0,327.25 L336.5,328.43 L337.0,329.58 L337.5,330.25 L338.0,330.98 L338.5,331.94 L339.0,332.83 L339.5,333.93 L340.0,334.90 L340.5,335.57 L341.0,336.36 L341.5,337.39 L342.0,338.45 L342.5,339.06 L343.0,339.41 L343.5,340.09 L344.0,341.00 L344.5,341.75 L345.0,342.40 L345.5,343.13 L346.0,343.88 L346.5,344.61 L347.0,345.14 L347.5,345.54 L348.0,345.94 L348.5,346.40 L349.0,347.03 L349.5,347.47 L350.0,347.76 L350.5,348.13 L351.0,348.70 L351.5,349.26 L352.0,349.42 L352.5,349.60 L353.0,349.80 L353.5,349.86 L354.0,350.07 L354.5,350.32 L355.0,350.56 L355.5,350.74 L356.0,350.92 L356.5,351.03 L357.0,351.07 L357.5,351.12 L358.0,351.19 L358.5,351.21 L359.0,351.28 L359.5,351.44 L360.0,351.53 L360.5,351.51 L361.0,351.47 L361.5,351.45 L362.0,351.52 L362.5,351.71 L363.0,351.88 L363.5,351.92 L364.0,351.88 L364.5,351.86 L365.0,351.93 L365.5,352.01 L366.0,352.09 L366.5,352.10 L367.0,352.07 L367.5,352.09 L368.0,352.15 L368.5,352.15 L369.0,352.05 L369.5,351.96 L370.0,352.05 L370.5,352.18 L371.0,352.22 L371.5,352.21 L372.0,352.18 L372.5,352.19 L373.0,352.26 L373.5,352.27 L374.0,352.28 L374.5,352.33 L375.0,352.38 L375.5,352.30 L376.0,352.15 L376.5,352.14 L377.0,352.20 L377.5,352.16 L378.0,352.18 L378.5,352.26 L379.0,352.25 L379.5,352.17 L380.0,352.12 L380.5,352.17 L381.0,352.23 L381.5,352.26 L382.0,352.40 L382.5,352.46 L383.0,352.31 L383.5,352.29 L384.0,352.43 L384.5,352.41 L385.0,352.29 L385.5,352.27 L386.0,352.36 L386.5,352.43 L387.0,352.43 L387.5,352.34 L388.0,352.31 L388.5,352.33 L389.0,352.38 L389.5,352.46 L390.0,352.44 L390.5,352.36 L391.0,352.34 L391.5,352.39 L392.0,352.43 L392.5,352.37 L393.0,352.30 L393.5,352.33 L394.0,352.40 L394.5,352.49 L395.0,352.55 L395.5,352.53 L396.0,352.44 L396.5,352.39 L397.0,352.41 L397.5,352.38 L398.0,352.36 L398.5,352.41 L399.0,352.46 L399.5,352.44 L400.0,352.32 L400.5,352.28 L401.0,352.35 L401.5,352.39 L402.0,352.40 L402.5,352.34 L403.0,352.27 L403.5,352.33 L404.0,352.46 L404.5,352.43 L405.0,352.36 L405.5,352.35 L406.0,352.39 L406.5,352.45 L407.0,352.43 L407.5,352.44 L408.0,352.43 L408.5,352.39 L409.0,352.48 L409.5,352.49 L410.0,352.37 L410.5,352.33 L411.0,352.26 L411.5,352.19 L412.0,352.29 L412.5,352.43 L413.0,352.45 L413.5,352.37 L414.0,352.32 L414.5,352.32 L415.0,352.32 L415.5,352.26 L416.0,352.22 L416.5,352.30 L417.0,352.45 L417.5,352.56 L418.0,352.51 L418.5,352.41 L419.0,352.41 L419.5,352.40 L420.0,352.30 L420.5,352.22 L421.0,352.28 L421.5,352.36 L422.0,352.37 L422.5,352.33 L423.0,352.31 L423.5,352.35 L424.0,352.41 L424.5,352.43 L425.0,352.41 L425.5,352.39 L426.0,352.37 L426.5,352.42 L427.0,352.38 L427.5,352.30 L428.0,352.34 L428.5,352.36 L429.0,352.36 L429.5,352.40 L430.0,352.41 L430.5,352.38 L431.0,352.36 L431.5,352.41 L432.0,352.44 L432.5,352.39 L433.0,352.35 L433.5,352.37 L434.0,352.40 L434.5,352.43 L435.0,352.43 L435.5,352.37 L436.0,352.27 L436.5,352.26 L437.0,352.34 L437.5,352.48 L438.0,352.58 L438.5,352.51 L439.0,352.32 L439.5,352.26 L440.0,352.37 L440.5,352.38 L441.0,352.35 L441.5,352.42 L442.0,352.41 L442.5,352.31 L443.0,352.29 L443.5,352.40 L444.0,352.43 L444.5,352.35 L445.0,352.32 L445.5,352.38 L446.0,352.48 L446.5,352.54 L447.0,352.58 L447.5,352.54 L448.0,352.48 L448.5,352.47 L449.0,352.39 L449.5,352.29 L450.0,352.32 L450.5,352.37 L451.0,352.33 L451.5,352.30 L452.0,352.36 L452.5,352.42 L453.0,352.33 L453.5,352.26 L454.0,352.34 L454.5,352.47 L455.0,352.48 L455.5,352.42 L456.0,352.39 L456.5,352.36 L457.0,352.45 L457.5,352.60 L458.0,352.54 L458.5,352.38 L459.0,352.30 L459.5,352.30 L460.0,352.23 L460.5,352.24 L461.0,352.39 L461.5,352.46 L462.0,352.46 L462.5,352.42 L463.0,352.37 L463.5,352.40 L464.0,352.39 L464.5,352.40 L465.0,352.48 L465.5,352.55 L466.0,352.57 L466.5,352.47 L467.0,352.35 L467.5,352.32 L468.0,352.35 L468.5,352.31 L469.0,352.28 L469.5,352.37 L470.0,352.43 L470.5,352.37 L471.0,352.33 L471.5,352.34 L472.0,352.28 L472.5,352.31 L473.0,352.45 L473.5,352.53 L474.0,352.49 L474.5,352.40 L475.0,352.41 L475.5,352.51 L476.0,352.56 L476.5,352.46 L477.0,352.38 L477.5,352.42 L478.0,352.41 L478.5,352.41 L479.0,352.47 L479.5,352.50 L480.0,352.49 L480.5,352.43 L481.0,352.34 L481.5,352.35 L482.0,352.39 L482.5,352.41 L483.0,352.48 L483.5,352.43 L484.0,352.38 L484.5,352.44 L485.0,352.47 L485.5,352.48 L486.0,352.51 L486.5,352.51 L487.0,352.36 L487.5,352.20 L488.0,352.18 L488.5,352.27 L489.0,352.44 L489.5,352.53 L490.0,352.40 L490.5,352.33 L491.0,352.42 L491.5,352.44 L492.0,352.40 L492.5,352.41 L493.0,352.38 L493.5,352.35 L494.0,352.39 L494.5,352.36 L495.0,352.32 L495.5,352.40 L496.0,352.56 L496.5,352.62 L497.0,352.54 L497.5,352.38 L498.0,352.33 L498.5,352.38 L499.0,352.41 L499.5,352.37 L500.0,352.30 L500.5,352.27 L501.0,352.33 L501.5,352.45 L502.0,352.47 L502.5,352.41 L503.0,352.44 L503.5,352.44 L504.0,352.37 L504.5,352.40 L505.0,352.42 L505.5,352.40 L506.0,352.44 L506.5,352.43 L507.0,352.39 L507.5,352.34 L508.0,352.31 L508.5,352.37 L509.0,352.40 L509.5,352.37 L510.0,352.39 L510.5,352.41 L511.0,352.39 L511.5,352.36 L512.0,352.41 L512.5,352.45 L513.0,352.40 L513.5,352.38 L514.0,352.42 L514.5,352.43 L515.0,352.42 L515.5,352.38 L516.0,352.29 L516.5,352.26 L517.0,352.29 L517.5,352.28 L518.0,352.26 L518.5,352.39 L519.0,352.47 L519.5,352.38 L520.0,352.27 L520.5,352.27 L521.0,352.37 L521.5,352.44 L522.0,352.44 L522.5,352.42 L523.0,352.37 L523.5,352.37 L524.0,352.40 L524.5,352.41 L525.0,352.44 L525.5,352.44 L526.0,352.37 L526.5,352.31 L527.0,352.36 L527.5,352.41 L528.0,352.36 L528.5,352.33 L529.0,352.41 L529.5,352.50 L530.0,352.45 L530.5,352.39 L531.0,352.46 L531.5,352.53 L532.0,352.43 L532.5,352.34 L533.0,352.33" stroke="#0c74c6"/>
<path d="M358,351.6 L364,352.3 L372,352.6 L533.1,352.6" stroke="#0c74c6" stroke-width="3.3"/>
</g>
<g font-family="'Liberation Sans', Arial, sans-serif" font-weight="bold" fill="#000" stroke="#000" stroke-width="0.2">
<g font-size="16.2px" text-anchor="middle">
<text transform="translate(112.7,378.35) scale(1.016,1)">250</text>
<text transform="translate(217.8,378.35) scale(1.016,1)">300</text>
<text transform="translate(322.9,378.35) scale(1.016,1)">350</text>
<text transform="translate(428.0,378.35) scale(1.016,1)">400</text>
<text transform="translate(533.1,378.35) scale(1.016,1)">450</text>
</g>
<g font-size="16px" text-anchor="end">
<text transform="translate(48.2,359.0) scale(1.04,1)">0.0</text>
<text transform="translate(48.2,295.8) scale(1.04,1)">0.2</text>
<text transform="translate(48.2,232.6) scale(1.04,1)">0.4</text>
<text transform="translate(48.2,169.4) scale(1.04,1)">0.6</text>
<text transform="translate(48.2,106.2) scale(1.04,1)">0.8</text>
<text transform="translate(48.2,43.0) scale(1.04,1)">1.0</text>
</g>
<text transform="translate(229.1,402.5) scale(1.055,1)" font-size="17.8px">Wavelength (nm)</text>
<text transform="translate(17.2,246.4) rotate(-90) scale(1.05,1)" font-size="17.7px">Absorption (a.u.)</text>
<g font-size="16.6px">
<text transform="translate(338.2,54.4) scale(1.015,1)">[Yb(DPPDA)<tspan dy="4" font-size="12px">2</tspan><tspan dy="-4">](DIPEA)</tspan></text>
<text transform="translate(338.2,79.1) scale(1.015,1)">[Gd(DPPDA)<tspan dy="4" font-size="12px">2</tspan><tspan dy="-4">](DIPEA)</tspan></text>
<text transform="translate(338.2,103.8) scale(1.01,1)">DPPDA</text>
</g>
</g>
<g fill="none" stroke-width="2.9" stroke-linecap="round">
<path d="M295.4,48.8 H332.6" stroke="#fa0078"/>
<path d="M295.4,73.5 H332.6" stroke="#08b24a"/>
<path d="M295.4,98.6 H332.6" stroke="#0c74c6"/>
</g>
</svg>
</body></html>
